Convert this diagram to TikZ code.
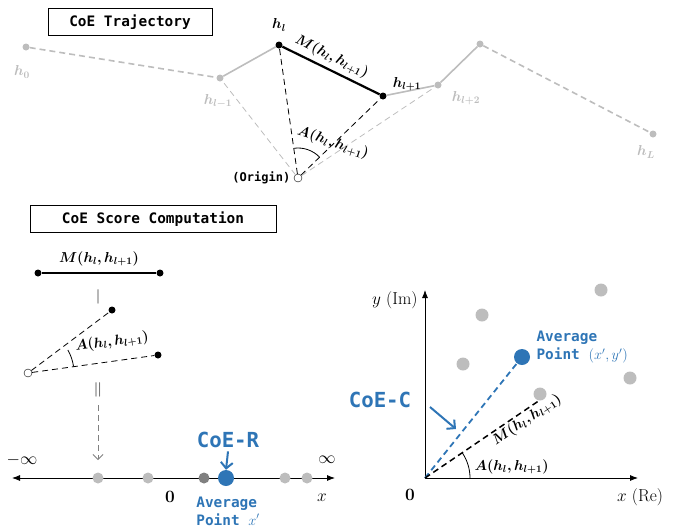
\documentclass[tikz,border=0pt]{standalone}
\usepackage{amsmath,bm}
\usepackage{fontspec}
\setmonofont{DejaVu Sans Mono}
\usetikzlibrary{arrows.meta}
\definecolor{cblue}{HTML}{2E75B6}
\definecolor{lgray}{HTML}{BDBDBD}
\begin{document}
\begin{tikzpicture}[x=1pt,y=-1pt,
  box/.style={draw,line width=0.8pt,minimum width=#1,minimum height=27pt,font=\ttfamily\bfseries\Large},
  gdot/.style={circle,fill=lgray,inner sep=0,minimum size=9pt},
  sdot/.style={circle,fill=lgray,inner sep=0,minimum size=7pt},
  bdot/.style={circle,fill=black,inner sep=0,minimum size=7pt},
  odot/.style={circle,draw,fill=white,inner sep=0,minimum size=8pt},
  gl/.style={lgray,line width=1.6pt},
  bl/.style={black,line width=1.6pt},
  dsh/.style={dashed,dash pattern=on 6pt off 4pt},
  lab/.style={font=\LARGE},
  sml/.style={font=\Large}]
\useasboundingbox (0,0) rectangle (678,531);
% --- top
\node[box=164pt] (t1) at (130,22) {CoE Trajectory};
\node[sdot] (h0) at (26,47) {};
\node[sdot] (hm) at (220,78) {};
\node[bdot] (hl) at (279,45) {};
\node[bdot] (hp) at (383,96) {};
\node[sdot] (hq) at (438,85) {};
\node[sdot] (hr) at (480,44) {};
\node[sdot] (hL) at (653,134) {};
\node[odot] (O) at (298,178) {};
\draw[gl,dsh] (h0)--(hm);
\draw[gl] (hm)--(hl);
\draw[bl,line width=2.2pt] (hl)--(hp) node[pos=0.45,above=1pt,sloped,sml]{$\bm{M(h_l,h_{l+1})}$};
\draw[gl] (hp)--(hq)--(hr);
\draw[gl,dsh] (hr)--(hL);
\draw[dsh,lgray,thick] (O)--(hm);
\draw[dsh,lgray,thick] (O)--(hq);
\draw[dsh,thick] (O)--(hl);
\draw[dsh,thick] (O)--(hp);
\draw[thick] (O) ++(98:30pt) arc[start angle=98,end angle=44,radius=30pt];
\node[sml,rotate=-18] (Alab) at (333,143) {$\bm{A(h_l,h_{l+1})}$};
\node[sml,text=lgray] at (22,72) {$\bm{h_0}$};
\node[sml,text=lgray] at (218,101) {$\bm{h_{l-1}}$};
\node[sml] at (279,25) {$\bm{h_l}$};
\node[sml] at (407,84) {$\bm{h_{l+1}}$};
\node[sml,text=lgray] at (466,98) {$\bm{h_{l+2}}$};
\node[sml,text=lgray] at (646,152) {$\bm{h_L}$};
\node[font=\ttfamily\bfseries\large,anchor=east] at (O.west) {(Origin)};
% --- bottom left
\node[box=246pt] (t2) at (153,219) {CoE Score Computation};
\node[bdot] (m1) at (38,273) {};
\node[bdot] (m2) at (160,273) {};
\draw[bl] (m1)--(m2) node[midway,above=3pt,sml]{$\bm{M(h_l,h_{l+1})}$};
\node[font=\Large] at (98,297) {$|$};
\node[bdot] (a1) at (112,310) {};
\node[bdot] (a2) at (158,355) {};
\node[odot] (ao) at (28,373) {};
\draw[dsh,thick] (ao)--(a1);
\draw[dsh,thick] (ao)--(a2);
\draw[thick] (ao) ++(30:46pt) arc[start angle=30,end angle=8,radius=46pt];
\node[sml,rotate=8] at (112,342) {$\bm{A(h_l,h_{l+1})}$};
\node[font=\Large] at (98,390) {$||$};
\coordinate (da) at (98,405);
\coordinate (db) at (98,460);
\draw[dsh,gray,thick,-{Straight Barb[length=5pt]}] (da)--(db);
\coordinate (nl) at (12,478);
\coordinate (nr) at (335,478);
\draw[thick,{Latex[length=8pt]}-{Latex[length=8pt]}] (nl)--(nr);
\foreach \x/\n in {98/p1,148/p2,285/p3,307/p4}{\node[gdot,minimum size=11pt] (\n) at (\x,478) {};}
\node[gdot,minimum size=11pt,fill=gray] (p5) at (204,478) {};
\node[circle,fill=cblue,inner sep=0,minimum size=16pt] (avg) at (226,478) {};
\node[lab] at (22,460) {$-\infty$};
\node[lab] at (327,460) {$\infty$};
\node[font=\LARGE\bfseries] at (170,497) {0};
\node[lab] at (322,498) {$x$};
\node[text=cblue,font=\ttfamily\bfseries\huge] (cr) at (228,440) {CoE-R};
\draw[cblue,line width=2pt,-{Straight Barb[length=6pt]}] (cr.south)--(avg.north);
\node[text=cblue,font=\ttfamily\bfseries\Large,align=left] at (228,511) {Average\\Point $x'$};
% --- bottom right
\coordinate (o2) at (425,478);
\coordinate (yt) at (425,290);
\coordinate (xr) at (638,478);
\draw[thick,-{Latex[length=8pt]}] (o2)--(yt);
\draw[thick,-{Latex[length=8pt]}] (o2)--(xr);
\node[lab,anchor=east] at (421,300) {$y$ (Im)};
\node[lab] at (640,497) {$x$ (Re)};
\node[font=\LARGE\bfseries] at (410,495) {0};
\foreach \x/\y/\n in {482/315/q1,601/290/q2,463/364/q3,540/394/q4,630/378/q5}{\node[gdot,minimum size=13pt] (\n) at (\x,\y) {};}
\node[circle,fill=cblue,inner sep=0,minimum size=16pt] (bd) at (522,357) {};
\draw[dsh,cblue,line width=1.8pt] (o2)--(bd);
\coordinate (me) at (540,400);
\draw[dsh,line width=1.5pt] (o2)--(me);
\node[sml,rotate=34] at (527,420) {$\bm{M(h_l,h_{l+1})}$};
\draw[thick] (o2) ++(0:45pt) arc[start angle=0,end angle=34,radius=45pt];
\node[sml,anchor=west] at (471,467) {$\bm{A(h_l,h_{l+1})}$};
\node[text=cblue,font=\ttfamily\bfseries\huge] (cc) at (380,400) {CoE-C};
\coordinate (ca) at (430,407);
\coordinate (cb) at (456,429);
\draw[cblue,line width=2pt,-{Straight Barb[length=6pt]}] (ca)--(cb);
\node[text=cblue,font=\ttfamily\bfseries\Large,align=left,anchor=west] at (533,347) {Average\\Point $(x',y')$};
\end{tikzpicture}
\end{document}
